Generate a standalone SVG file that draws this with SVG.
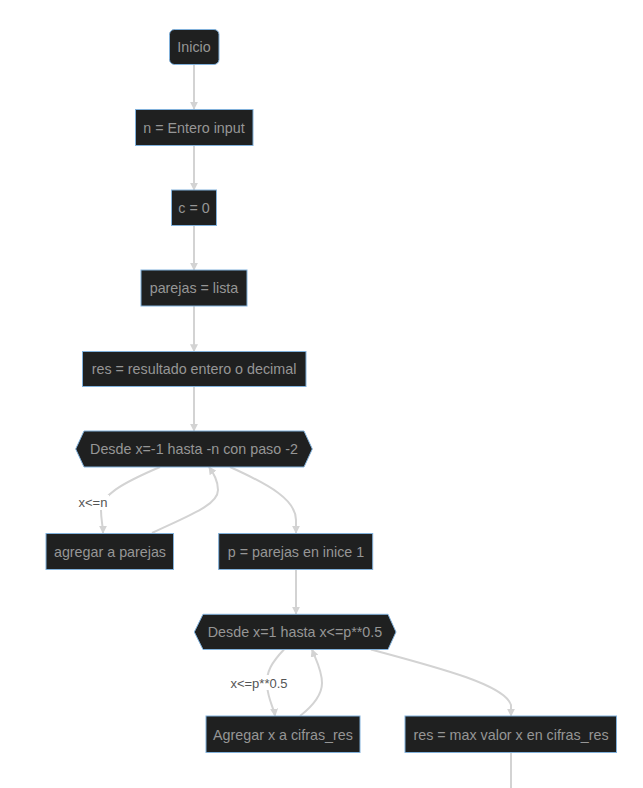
<svg xmlns="http://www.w3.org/2000/svg" width="643" height="788" viewBox="0 0 643 788">
<style>
.node rect, .node polygon { fill: #1f2020; stroke: #81B1DB; stroke-width: 1; }
.node text { fill: #969696; font-family: "Liberation Sans", Arial, sans-serif; font-size: 14.3px; text-anchor: middle; dominant-baseline: central; }
.edge { fill: none; stroke: #d3d3d3; stroke-width: 2; }
.lbl text { fill: #555; font-family: "Liberation Sans", Arial, sans-serif; font-size: 13px; text-anchor: middle; dominant-baseline: central; }
.lbl rect { fill: #ffffff; }
</style>
<defs>
<marker id="arr" viewBox="0 0 10 10" refX="9" refY="5" markerWidth="4" markerHeight="4" orient="auto-start-reverse" markerUnits="strokeWidth">
<path d="M0,0 L10,5 L0,10 z" fill="#d3d3d3"/>
</marker>
</defs>
<rect width="643" height="788" fill="#ffffff"/>
<g id="connectors">
<path class="edge" d="M194,64.5 L194,109" marker-end="url(#arr)"/>
<path class="edge" d="M194,145.5 L194,190" marker-end="url(#arr)"/>
<path class="edge" d="M194,225.5 L194,270" marker-end="url(#arr)"/>
<path class="edge" d="M194,306 L194,351.5" marker-end="url(#arr)"/>
<path class="edge" d="M194,386.5 L194,431" marker-end="url(#arr)"/>
<path class="edge" d="M160,467 C120,484 101,496 101,510 C101,520 103,526 103,533" marker-end="url(#arr)"/>
<path class="edge" d="M152,533 C190,515 218,505 218,490 C218,480 213,473 209,467" marker-end="url(#arr)"/>
<path class="edge" d="M230,467 C270,485 296,500 296,520 L296,533" marker-end="url(#arr)"/>
<path class="edge" d="M296,569.5 L296,614" marker-end="url(#arr)"/>
<path class="edge" d="M284,649.5 C272,662 266,672 267,685 C268,700 274,708 275,716" marker-end="url(#arr)"/>
<path class="edge" d="M300,716 C314,705 322,695 322,683 C322,670 316,660 312,649.5" marker-end="url(#arr)"/>
<path class="edge" d="M371,649.5 C440,668 505,685 511,705 L511,716" marker-end="url(#arr)"/>
<path class="edge" d="M511,752.5 L511,788"/>
<g class="lbl"><rect x="77" y="495" width="32" height="15"/><text x="93" y="502">x&lt;=n</text></g>
<g class="lbl"><rect x="227" y="675" width="64" height="15"/><text x="259" y="683">x&lt;=p**0.5</text></g>
</g>
<g id="inicio" class="node"><rect x="169.5" y="29.5" width="49.5" height="35" rx="5"/><text x="194" y="47">Inicio</text></g>
<g id="n" class="node"><rect x="135.5" y="109.5" width="117.5" height="36"/><text x="194" y="127.5">n = Entero input</text></g>
<g id="c" class="node"><rect x="171.5" y="190" width="45" height="35.5"/><text x="194" y="208">c = 0</text></g>
<g id="parejas" class="node"><rect x="141" y="270" width="106" height="36"/><text x="194" y="288">parejas = lista</text></g>
<g id="res" class="node"><rect x="82.5" y="351.5" width="223.5" height="35"/><text x="194" y="369">res = resultado entero o decimal</text></g>
<g id="loop1" class="node"><polygon points="75.7,449 84,431 304,431 312.3,449 304,467 84,467"/><text x="194" y="449">Desde x=-1 hasta -n con paso -2</text></g>
<g id="agregar" class="node"><rect x="46" y="533.5" width="127.5" height="36"/><text x="110" y="551.5">agregar a parejas</text></g>
<g id="p" class="node"><rect x="218.7" y="533.5" width="154" height="36"/><text x="296" y="551.5">p = parejas en inice 1</text></g>
<g id="loop2" class="node"><polygon points="194.3,632 203,614.3 388,614.3 396,632 388,649.5 203,649.5"/><text x="295" y="632">Desde x=1 hasta x&lt;=p**0.5</text></g>
<g id="agregarx" class="node"><rect x="206" y="716" width="154" height="36.5"/><text x="283" y="734.5">Agregar x a cifras_res</text></g>
<g id="resmax" class="node"><rect x="405" y="716" width="211.5" height="36.5"/><text x="511" y="734.5">res = max valor x en cifras_res</text></g>
</svg>
